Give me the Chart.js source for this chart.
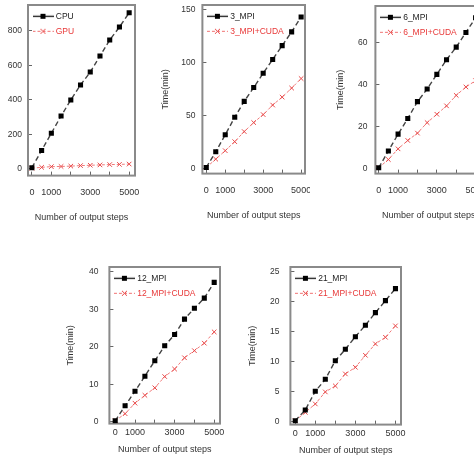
<!DOCTYPE html>
<html><head><meta charset="utf-8">
<script src="https://cdn.jsdelivr.net/npm/chart.js@4.4.1/dist/chart.umd.min.js"></script>
<style>
html,body{margin:0;padding:0;background:#fff;overflow:hidden;width:474px;height:474px;position:relative}
canvas{position:absolute}
</style></head><body>
<script>
// ---- data ----
const steps = [0,500,1000,1500,2000,2500,3000,3500,4000,4500,5000];
const xTicks = [0,1000,2000,3000,4000,5000];
const xTickLabels = ['0','1000','','3000','','5000'];

const cpu    = [6,106,206,306,399,486,561,654,747,822,905];
const gpu    = [3,8,12,13,15,18,20,22,24,25,27];
const mpi3   = [1.2,16,32,48.5,63.5,76.5,90,103,116,129,143];
const cuda3  = [1.2,9,17,25.5,35,43.5,51,60,67.5,76,85];
const mpi6   = [0.5,8.5,16.5,24,32,38,45,52,58,65,72];
const cuda6  = [0.5,4.4,9.5,13.5,17,22,26,30,35,39,42];
const mpi12  = [0.3,4.3,8.2,12.2,16.3,20.3,23.3,27.4,30.3,33,37.2];
const cuda12 = [0.3,2.2,5,7.1,9.1,12.1,14.1,17.1,19,21,24];
const mpi21  = [0.2,2,5.1,7.1,10.2,12.1,14.2,16.1,18.2,20.2,22.2];
const cuda21 = [0.2,1.6,3,5,6,8,9.1,11.1,13,14.1,16];

const yTicks1  = [0,200,400,600,800];
const yTicks3  = [0,50,100,150];
const yTicks6  = [0,20,40,60];
const yTicks12 = [0,10,20,30,40];
const yTicks21 = [0,5,10,15,20,25];

const names1  = ['CPU','GPU'];
const names3  = ['3_MPI','3_MPI+CUDA'];
const names6  = ['6_MPI','6_MPI+CUDA'];
const names12 = ['12_MPI','12_MPI+CUDA'];
const names21 = ['21_MPI','21_MPI+CUDA'];

const xTitle = 'Number of output steps';
const yTitle = 'Time(min)';

// ---- layout / styling ----
const FONT = "'Liberation Sans', Arial, sans-serif";
const panels = [
  {a:cpu,  b:gpu,   n:names1,  yt:yTicks1,  cx:-14, cy:0,   cw:154, ch:223, wy:42, hx:47.4, xmin:-200, xmax:5300, ymin:-40,  ymax:950,  ypad:10, xpad:15.6},
  {a:mpi3, b:cuda3, n:names3,  yt:yTicks3,  cx:160, cy:0,   cw:150, ch:221, wy:42.4, hx:47.4, xmin:-204, xmax:5204, ymin:-4.6, ymax:154.3, ypad:11, xpad:15.6},
  {a:mpi6, b:cuda6, n:names6,  yt:yTicks6,  cx:335, cy:1,   cw:152, ch:220, wy:40.4, hx:47.4, xmin:-170, xmax:5330, ymin:-2.3, ymax:77.6, ypad:12, xpad:15.6},
  {a:mpi12,b:cuda12,n:names12, yt:yTicks12, cx:65,  cy:262, cw:160, ch:193, wy:44.4, hx:31.4, xmin:-293, xmax:5293, ymin:-0.44, ymax:41.3, ypad:15, xpad:7.6},
  {a:mpi21,b:cuda21,n:names21, yt:yTicks21, cx:247, cy:262, cw:159, ch:194, wy:43.4, hx:31.4, xmin:-242, xmax:5276, ymin:-0.44, ymax:25.8, ypad:15, xpad:7.6}
];

function makeIcon(kind){
  const c = document.createElement('canvas');
  c.width = 21; c.height = 9;
  const g = c.getContext('2d');
  if (kind === 0){
    g.strokeStyle = '#111'; g.lineWidth = 1.3;
    g.beginPath(); g.moveTo(0,4.5); g.lineTo(21,4.5); g.stroke();
    g.fillStyle = '#000'; g.fillRect(8,2,5,5);
  } else {
    g.strokeStyle = '#f07070'; g.lineWidth = 1; g.setLineDash([3,2]);
    g.beginPath(); g.moveTo(0,4.5); g.lineTo(21,4.5); g.stroke();
    g.setLineDash([]); g.strokeStyle = '#e84040';
    g.beginPath(); g.moveTo(8,2); g.lineTo(13,7); g.moveTo(13,2); g.lineTo(8,7); g.stroke();
  }
  return c;
}
const icons = [makeIcon(0), makeIcon(1)];

const framePlugin = {
  id:'frame',
  beforeDatasetsDraw(chart){
    const a = chart.chartArea, g = chart.ctx;
    g.save();
    g.strokeStyle = '#8a8a8a'; g.lineWidth = 2;
    g.strokeRect(a.left, a.top, a.right - a.left, a.bottom - a.top);
    g.restore();
  }
};

function makeChart(p){
  const c = document.createElement('canvas');
  c.width = p.cw; c.height = p.ch;
  c.style.left = p.cx + 'px'; c.style.top = p.cy + 'px';
  c.style.width = p.cw + 'px'; c.style.height = p.ch + 'px';
  document.body.appendChild(c);
  const tickFont = {family: FONT, size: 9};
  new Chart(c, {
    type: 'line',
    data: {datasets: [
      {label: p.n[0], data: steps.map((s,i)=>({x:s, y:p.a[i]})),
       borderColor:'#444', borderWidth:1.4, borderDash:[5,3], tension:0,
       pointStyle:'rect', pointRadius:3.6, pointBackgroundColor:'#000', pointBorderColor:'#000', pointBorderWidth:0},
      {label: p.n[1], data: steps.map((s,i)=>({x:s, y:p.b[i]})),
       borderColor:'#f07a7a', borderWidth:1, borderDash:[3,2], tension:0,
       pointStyle:'crossRot', pointRadius:3.2, pointBorderColor:'#e84848', pointBackgroundColor:'#e84848', pointBorderWidth:1}
    ]},
    options: {
      responsive:false, animation:false, devicePixelRatio:1,
      layout:{padding:{left:0, top:2, right:2, bottom:0}},
      scales:{
        x:{type:'linear', min:p.xmin, max:p.xmax,
           afterBuildTicks(s){ s.ticks = xTicks.map(v=>({value:v})); },
           afterFit(s){ s.height = p.hx; s.paddingLeft = 0; s.paddingRight = 0; s.paddingTop = 0; s.paddingBottom = 0; },
           ticks:{autoSkip:false, maxRotation:0, minRotation:0, padding:p.xpad, font:tickFont, color:'#333',
                  callback(v){ const i = xTicks.indexOf(v); return i >= 0 ? xTickLabels[i] : ''; }},
           grid:{drawOnChartArea:false, drawTicks:true, tickLength:-4, color:'#666', lineWidth:1},
           border:{display:false},
           title:{display:true, text:xTitle, padding:0, font:{family:FONT, size:9}, color:'#333'}},
        y:{type:'linear', min:p.ymin, max:p.ymax,
           afterBuildTicks(s){ s.ticks = p.yt.map(v=>({value:v})); },
           afterFit(s){ s.width = p.wy; s.paddingLeft = 0; s.paddingRight = 0; s.paddingTop = 0; s.paddingBottom = 0; },
           ticks:{autoSkip:false, padding:p.ypad, font:{family:FONT, size:8.5}, color:'#333',
                  callback(v){ return String(v); }},
           grid:{drawOnChartArea:false, drawTicks:true, tickLength:-4, color:'#666', lineWidth:1},
           border:{display:false},
           title:{display:true, text:yTitle, padding:0, font:{family:FONT, size:9}, color:'#333'}}
      },
      plugins:{
        tooltip:{enabled:false},
        legend:{position:'chartArea', align:'start',
          title:{display:true, text:' ', padding:0, font:{family:FONT, size:4.6}},
          labels:{usePointStyle:true, pointStyleWidth:17, padding:6.5, font:{family:FONT, size:8.5},
            generateLabels(chart){
              return chart.data.datasets.map((d,i)=>({text:d.label, fontColor: i ? '#e83838' : '#222',
                pointStyle: icons[i], lineWidth:0, strokeStyle:'rgba(0,0,0,0)', fillStyle:'rgba(0,0,0,0)',
                hidden:false, datasetIndex:i}));
            }}}
      }
    },
    plugins:[framePlugin]
  });
}
panels.forEach(makeChart);
</script>
</body></html>
